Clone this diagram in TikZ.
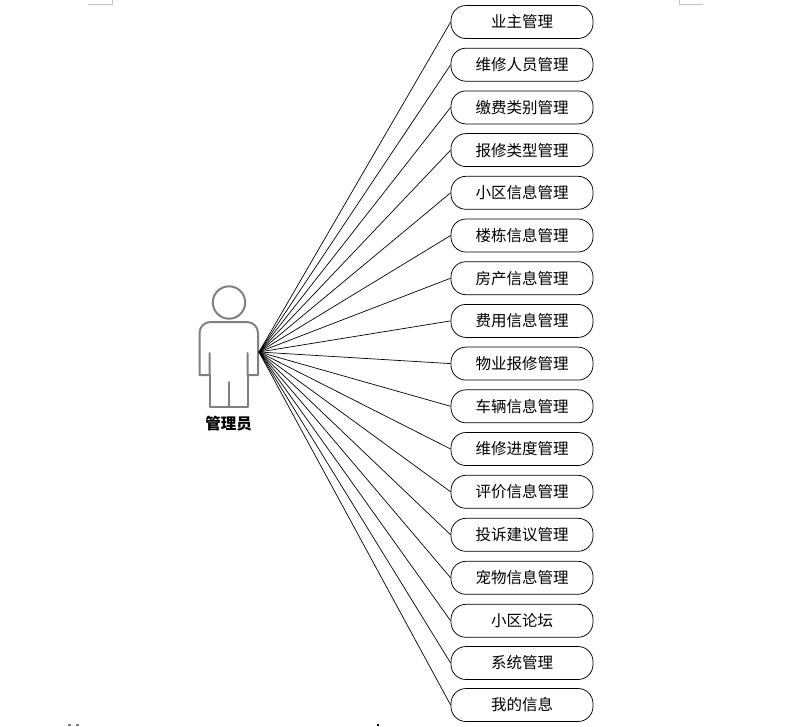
\documentclass[tikz,border=0pt]{standalone}
\usepackage{fontspec}
\setmainfont{Noto Sans CJK SC}
\definecolor{figgrey}{HTML}{808080}
\definecolor{markgrey}{HTML}{C4C4C4}
\tikzset{
  usecase/.style={draw=black,line width=0.75pt,rounded corners=15pt,minimum width=142pt,minimum height=33pt,inner sep=0pt,fill=white,font=\fontsize{15.5}{15.5}\selectfont},
  link/.style={draw=black,line width=0.7pt},
  figure line/.style={draw=figgrey,line width=2pt,line join=round,line cap=round},
  crop/.style={draw=markgrey,line width=1pt}
}
\begin{document}
\begin{tikzpicture}[x=1pt,y=-1pt]
\useasboundingbox (0,0) rectangle (799,726);
% page crop marks
\draw[crop] (88,4) -- (112,4) -- (112,0);
\draw[crop] (703,4) -- (679,4) -- (679,0);
\fill[figgrey] (68,723.5) rectangle (71,726);
\fill[figgrey] (76,723.5) rectangle (79,726);
\fill[black] (377,724) rectangle (379,726);
% actor
\draw[figure line] (229,302.5) circle (16.2);
\draw[figure line] (209.5,353) -- (209.5,375) -- (199.5,375) -- (199.5,333) arc[start angle=180,end angle=270,radius=11] -- (247,322) arc[start angle=270,end angle=360,radius=11] -- (258,375) -- (247.5,375) -- (247.5,353);
\draw[figure line] (209.5,375) -- (209.5,407) -- (247.5,407) -- (247.5,375);
\draw[figure line] (228.5,382) -- (228.5,407);
\node (actorlabel) at (228.5,424) {\fontsize{15.5}{15.5}\selectfont\bfseries 管理员};
\coordinate (hub) at (259,352);
% use cases
\foreach \n/\t/\yy in {a/业主管理/22,b/维修人员管理/64.7,c/缴费类别管理/107.4,d/报修类型管理/150.1,e/小区信息管理/192.8,f/楼栋信息管理/235.5,g/房产信息管理/278.2,h/费用信息管理/320.9,k/物业报修管理/363.6,l/车辆信息管理/406.3,m/维修进度管理/449,n/评价信息管理/491.8,o/投诉建议管理/534.8,p/宠物信息管理/577.8,q/小区论坛/620.8,r/系统管理/663,s/我的信息/705}{
  \node[usecase] (\n) at (522,\yy) {\t};
  \draw[link] (hub) -- (\n.west);
}
\end{tikzpicture}
\end{document}
